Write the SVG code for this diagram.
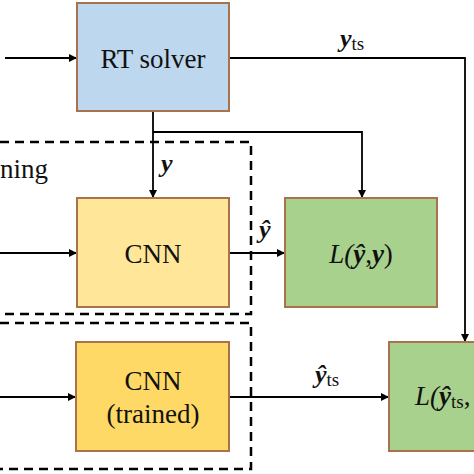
<svg xmlns="http://www.w3.org/2000/svg" width="474" height="474" viewBox="0 0 474 474" font-family="'Liberation Serif', 'Times New Roman', Times, Tinos, 'Noto Serif', 'DejaVu Serif', FreeSerif, serif">
<style>
.box{stroke:#A8734C;stroke-width:2}
text{fill:#111}
.m{font-weight:bold;font-style:italic}
.it{font-style:italic}
.n{font-weight:normal;font-style:normal}
.ln{stroke:#000;stroke-width:1.8;fill:none}
.dash{stroke:#000;stroke-width:2.5;fill:none;stroke-dasharray:9,6}
</style>
<defs>
<marker id="ah" viewBox="0 0 10 10" refX="10" refY="5" markerWidth="9" markerHeight="8" markerUnits="userSpaceOnUse" orient="auto">
<path d="M0,0 L10,5 L0,10 Z" fill="#000"/>
</marker>
</defs>
<rect width="474" height="474" fill="#fff"/>
<g id="frames">
<path class="dash" d="M0,142 H251 V314 H0"/>
<path class="dash" d="M0,323 H251 V469 H0"/>
<text x="0" y="178" font-size="27">ning</text>
</g>
<g id="connectors">
<line class="ln" x1="5" y1="58" x2="77" y2="58" marker-end="url(#ah)"/>
<path class="ln" d="M229,58 H465 V342" marker-end="url(#ah)"/>
<line class="ln" x1="153" y1="111" x2="153" y2="198" marker-end="url(#ah)"/>
<path class="ln" d="M153,132 H362 V198" marker-end="url(#ah)"/>
<line class="ln" x1="0" y1="253" x2="77" y2="253" marker-end="url(#ah)"/>
<line class="ln" x1="229" y1="253" x2="285" y2="253" marker-end="url(#ah)"/>
<line class="ln" x1="0" y1="397" x2="76" y2="397" marker-end="url(#ah)"/>
<line class="ln" x1="229" y1="397" x2="389" y2="397" marker-end="url(#ah)"/>
<text class="m" x="340" y="47" font-size="26">y<tspan class="n" font-size="19" dy="3">ts</tspan></text>
<text class="m" x="161" y="172" font-size="26">y</text>
<text class="m" x="259" y="238" font-size="26">ŷ</text>
<text class="m" x="315" y="383" font-size="26">ŷ<tspan class="n" font-size="19" dy="3">ts</tspan></text>
</g>
<g id="rt-solver">
<rect class="box" x="77" y="3" width="152" height="108" fill="#BDD7EE"/>
<text x="153" y="68" font-size="27" text-anchor="middle">RT solver</text>
</g>
<g id="cnn">
<rect class="box" x="77" y="198" width="152" height="109" fill="#FFE699"/>
<text x="153" y="263" font-size="27" text-anchor="middle">CNN</text>
</g>
<g id="loss">
<rect class="box" x="285" y="198" width="152" height="109" fill="#A9D18E"/>
<text class="it" x="361" y="263" font-size="27" text-anchor="middle">L(<tspan class="m">ŷ</tspan><tspan class="n">,</tspan><tspan class="m">y</tspan><tspan class="n">)</tspan></text>
</g>
<g id="cnn-trained">
<rect class="box" x="76" y="342" width="153" height="109" fill="#FFD966"/>
<text x="153" y="390" font-size="27" text-anchor="middle">CNN</text>
<text x="153" y="423" font-size="27" text-anchor="middle">(trained)</text>
</g>
<g id="loss-test">
<rect class="box" x="389" y="342" width="100" height="109" fill="#A9D18E"/>
<text class="it" x="415" y="405" font-size="27">L(<tspan class="m">ŷ</tspan><tspan class="n" font-size="19" dy="3">ts</tspan><tspan class="n" dy="-3">,</tspan></text>
</g>
</svg>
